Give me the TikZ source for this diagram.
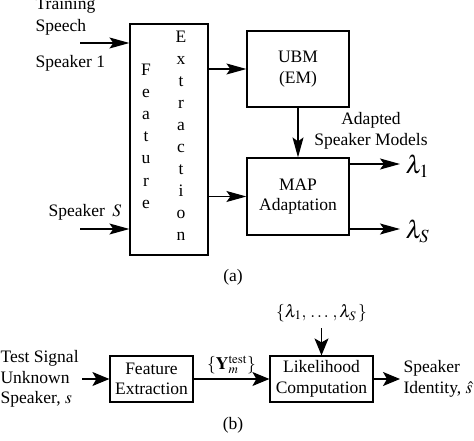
\documentclass[tikz,border=0pt]{standalone}
\usepackage{amsmath}
\usepackage{mathptmx}
\usepackage{fontspec}
\setmainfont{Liberation Serif}
\usetikzlibrary{positioning,arrows.meta}

\begin{document}
\begin{tikzpicture}[x=1pt,y=-1pt,line width=1.2pt,
    font=\fontsize{17.5}{20.5}\selectfont,
    blk/.style={draw,align=center,inner sep=0pt},
    lbl/.style={inner sep=0pt,align=left},
    arrA/.style={-{Stealth[length=20pt,width=11pt,inset=4pt]}},
    arrB/.style={-{Stealth[length=17pt,width=14pt,inset=4pt]}}]
      \useasboundingbox (0,0) rectangle (474,441);
      % (a) training
      \node[blk,minimum width=78pt,minimum height=231pt] (fe) at (169,139.5) {};
      \foreach \c [count=\i] in {F,e,a,t,u,r,e}
        \node[lbl,anchor=base] (f\i) at (146,76+22*\i-22) {\c};
      \foreach \c [count=\i] in {E,x,t,r,a,c,t,i,o,n}
        \node[lbl,anchor=base] (x\i) at (181,43+21.9*\i-21.9) {\c};
      \node[blk,minimum width=102pt,minimum height=76pt] (ubm) at (298,69) {UBM\\(EM)};
      \node[blk,minimum width=102pt,minimum height=77pt] (map) at (298,196.5) {MAP\\Adaptation};
      \node[lbl,anchor=base west,font=\fontsize{17.5}{22}\selectfont] (train) at (35,32) {Training\\Speech};
      \node[lbl,anchor=base west] (spk1) at (35,68) {Speaker 1};
      \node[lbl,anchor=base west] (spkS) at (48,216) {Speaker \,$S$};
      \node[lbl,align=center] (adapt) at (371,131) {Adapted\\Speaker Models};
      \node[lbl,anchor=west,font=\fontsize{25}{25}\selectfont] (lam1) at (405,166) {$\lambda_1$};
      \node[lbl,anchor=west,font=\fontsize{25}{25}\selectfont] (lamS) at (405,231) {$\lambda_S$};
      \coordinate (in1) at (80,43);
      \coordinate (inS) at (80,229);
      \draw[arrA] (in1) -- (in1 -| fe.west);
      \draw[arrA] (inS) -- (inS -| fe.west);
      \draw[arrA] (fe.east |- ubm) -- (ubm.west);
      \draw[arrA] (fe.east |- map) -- (map.west);
      \draw[arrA] (ubm) -- (map);
      \draw[arrA] (map.east |- 0,164) -- ([xshift=-5pt]lam1.west |- 0,164);
      \draw[arrA] (map.east |- 0,229) -- ([xshift=-5pt]lamS.west |- 0,229);
      \node (capa) at (233,277) {(a)};
      % (b) testing
      \node[blk,minimum width=83pt,minimum height=46pt] (fe2) at (151.5,379) {Feature\\Extraction};
      \node[blk,minimum width=103pt,minimum height=46pt] (lik) at (321.5,379) {Likelihood\\Computation};
      \node[lbl,anchor=west] (test) at (0,379) {Test Signal\\Unknown\\Speaker, $s$};
      \node[lbl] (lamset) at (321.5,313) {$\{\lambda_1,\,\ldots\,,\lambda_S\,\}$};
      \node[lbl,anchor=west] (ident) at (403,379) {Speaker\\Identity, $\hat{s}$};
      \draw[arrB] (82,379) -- (fe2.west);
      \draw[arrB] (fe2) -- node[above=1pt] (feat) {$\{\mathbf{Y}_m^{\mathrm{test}}\}$} (lik);
      \draw[arrB] ([yshift=-6pt]lamset.south) -- (lik);
      \draw[arrB] (lik) -- ([xshift=-3pt]ident.west);
      \node (capb) at (233,425) {(b)};
    \end{tikzpicture}
\end{document}
